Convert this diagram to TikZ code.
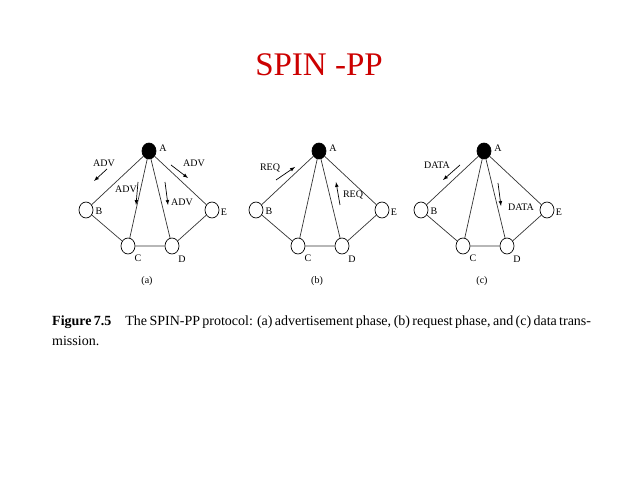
\documentclass[tikz,border=0pt]{standalone}
\usepackage{fontspec}
\setmainfont{Liberation Serif}
\usetikzlibrary{shapes.geometric}
\begin{document}
\begin{tikzpicture}[x=1pt,y=-1pt,
  nd/.style={ellipse,draw,line width=0.7pt,minimum width=14pt,minimum height=16pt,inner sep=0pt,fill=white},
  src/.style={nd,fill=black},
  ed/.style={line width=0.7pt,black!80},
  ar/.style={-latex,line width=0.7pt},
  lb/.style={font=\fontsize{10}{11}\selectfont,inner sep=0pt}]
\useasboundingbox (0,0) rectangle (638,478);
\node[text=red!80!black,font=\fontsize{33}{36}\selectfont] (title) at (319,65) {SPIN -PP};
\foreach \dx/\cap in {0/(a),170/(b),335/(c)}{
\begin{scope}[xshift=\dx]
\node[src] (A) at (149,151) {};
\node[nd] (B) at (86,210) {};
\node[nd] (C) at (128,246) {};
\node[nd] (D) at (172,246) {};
\node[nd] (E) at (212,210) {};
\draw[ed] (A)--(B) (A)--(C) (A)--(D) (A)--(E) (B)--(C) (C)--(D) (D)--(E);
\node[lb] (la) at (163,148) {A};
\node[lb] (lb) at (99,211) {B};
\node[lb] (lc) at (138,258) {C};
\node[lb] (ld) at (182,259) {D};
\node[lb] (le) at (224,212) {E};
\node[lb] (cap) at (147,281) {\cap};
\end{scope}}
% (a)
\coordinate (a1) at (107,169); \coordinate (a2) at (94,181);
\draw[ar] (a1)--(a2); \node[lb] (t1) at (104,163) {ADV};
\coordinate (a3) at (171,165); \coordinate (a4) at (188,178);
\draw[ar] (a3)--(a4); \node[lb] (t2) at (194,163) {ADV};
\coordinate (a5) at (138,182); \coordinate (a6) at (136,205);
\draw[ar] (a5)--(a6); \node[lb] (t3) at (126,189) {ADV};
\coordinate (a7) at (165,182); \coordinate (a8) at (168,205);
\draw[ar] (a7)--(a8); \node[lb] (t4) at (182,202) {ADV};
% (b)
\coordinate (b1) at (276,180); \coordinate (b2) at (295,167);
\draw[ar] (b1)--(b2); \node[lb] (t5) at (270,168) {REQ};
\coordinate (b3) at (340,205); \coordinate (b4) at (336,182);
\draw[ar] (b3)--(b4); \node[lb] (t6) at (353,195) {REQ};
% (c)
\coordinate (c1) at (460,165); \coordinate (c2) at (443,180);
\draw[ar] (c1)--(c2); \node[lb] (t7) at (437,165) {DATA};
\coordinate (c3) at (498,183); \coordinate (c4) at (501,206);
\draw[ar] (c3)--(c4); \node[lb] (t8) at (521,207) {DATA};
% caption
\node[anchor=west,inner sep=0pt,font=\fontsize{14}{16}\selectfont] (cap1) at (52,322)
 {\makebox[538pt][s]{\textbf{Figure 7.5}\quad The SPIN-PP protocol: (a) advertisement phase, (b) request phase, and (c) data trans-}};
\node[anchor=west,inner sep=0pt,font=\fontsize{14}{16}\selectfont] (cap2) at (52,341) {mission.};
\end{tikzpicture}
\end{document}
